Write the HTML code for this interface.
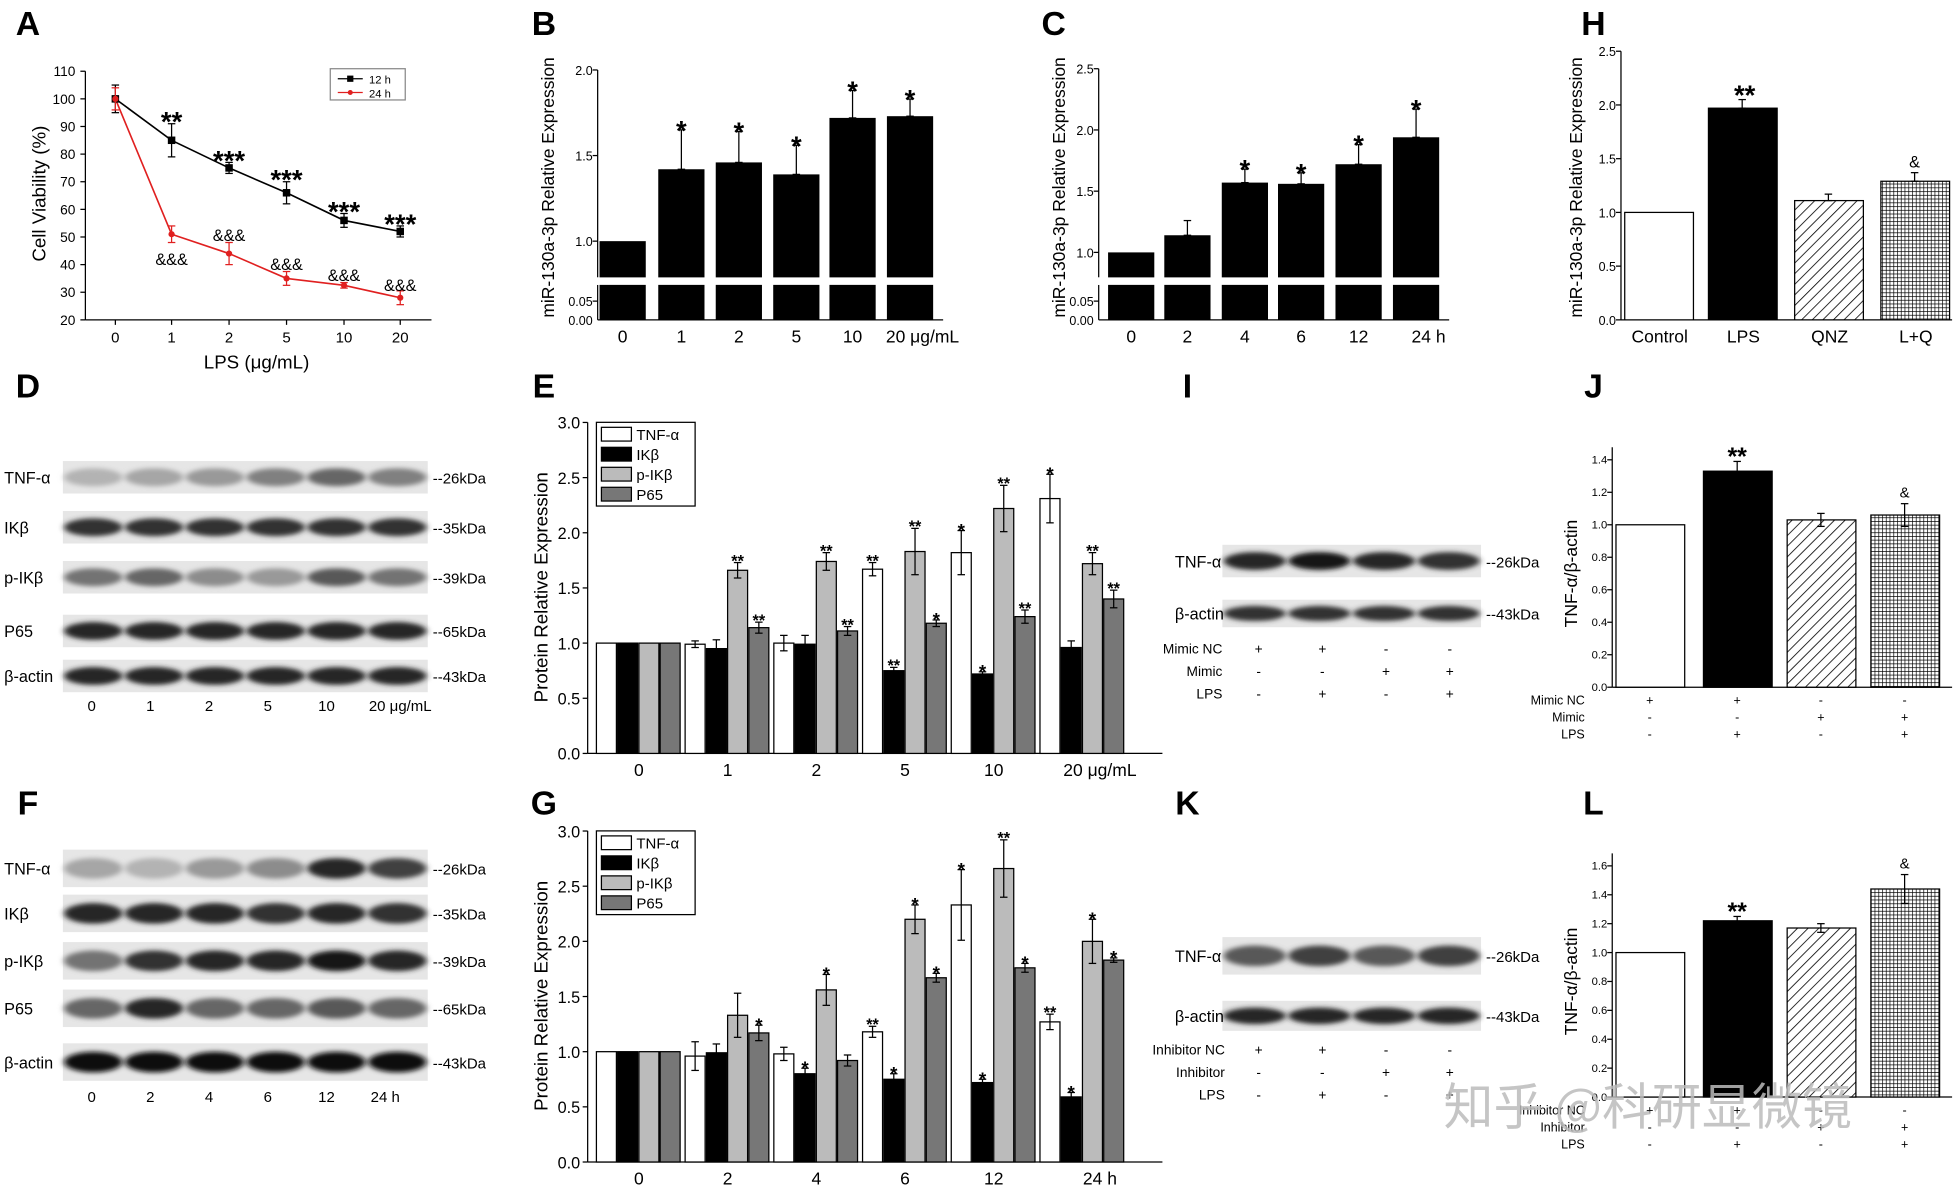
<!DOCTYPE html>
<html><head><meta charset="utf-8"><style>
html,body{margin:0;padding:0;background:#fff;}
svg{display:block;font-family:"Liberation Sans",sans-serif;}
</style></head><body>
<svg id="s" width="1960" height="1187" viewBox="0 0 1568 950" xmlns="http://www.w3.org/2000/svg">
<defs>
<filter id="bl" x="-20%" y="-100%" width="140%" height="300%"><feGaussianBlur stdDeviation="2.5 2"/></filter>
<pattern id="hatch" width="6" height="6" patternUnits="userSpaceOnUse" patternTransform="rotate(45)"><rect width="6" height="6" fill="#fff"/><line x1="0" y1="0" x2="0" y2="6" stroke="#000" stroke-width="1.3"/></pattern>
<pattern id="grid" width="3" height="3" patternUnits="userSpaceOnUse"><rect width="3" height="3" fill="#fff"/><path d="M0 0H3M0 0V3" stroke="#000" stroke-width="1.1"/></pattern>
</defs>
<g id="g"></g>
<text x="1155" y="900" font-family="'Noto Sans CJK SC',sans-serif" font-size="40" fill="#bbb" opacity="0.85">知乎 @科研显微镜</text>
</svg>
<script>
const g=document.getElementById('g');let h='';
const T=(x,y,t,o={})=>{h+=`<text x="${x}" y="${y}" font-size="${o.s||13}" text-anchor="${o.a||'middle'}" ${o.b?'font-weight="bold"':''} ${o.r?`transform="rotate(-90 ${x} ${y})"`:''} fill="${o.f||'#000'}">${t}</text>`;};
const L=(x1,y1,x2,y2,c='#000',w=1)=>{h+=`<line x1="${x1}" y1="${y1}" x2="${x2}" y2="${y2}" stroke="${c}" stroke-width="${w}"/>`;};
const R=(x,y,w,hh,f,st='#000')=>{h+=`<rect x="${x}" y="${y}" width="${w}" height="${hh}" fill="${f}" stroke="${st}" stroke-width="1"/>`;};
const EB=(x,y1,y2,c='#000')=>{L(x,y1,x,y2,c);L(x-3,y1,x+3,y1,c);L(x-3,y2,x+3,y2,c);};
[['A',22,28],['B',435,28],['C',843,28],['H',1275,28],['D',22,318],['E',435,318],['I',950,318],['J',1275,318],['F',22,652],['G',435,652],['K',950,652],['L',1275,652]].forEach(p=>T(p[1],p[2],p[0],{s:27,b:1}));
// Panel A
{const yv=v=>256-(v-20)*2.211;L(68,57,68,256);L(68,256,345,256);
for(let v=20;v<=110;v+=10){L(64,yv(v),68,yv(v));T(60,yv(v)+4,v,{s:11,a:'end'});}
const xs=[92,137,183,229,275,320],lab=[0,1,2,5,10,20];xs.forEach((x,i)=>{L(x,256,x,260);T(x,274,lab[i],{s:12});});
T(205,295,'LPS (μg/mL)',{s:15});T(36,155,'Cell Viability (%)',{s:15,r:1});
const a=[100,85,75,66,56,52],ae=[5,6,2,4,2.5,2],b=[100,51,44,35,32.5,28],be=[4,3,4,2.5,1,2.5];
h+=`<polyline points="${xs.map((x,i)=>x+','+yv(a[i])).join(' ')}" fill="none" stroke="#000" stroke-width="1.3"/>`;
h+=`<polyline points="${xs.map((x,i)=>x+','+yv(b[i])).join(' ')}" fill="none" stroke="#e02020" stroke-width="1.3"/>`;
xs.forEach((x,i)=>{EB(x,yv(a[i]+ae[i]),yv(a[i]-ae[i]));R(x-2.5,yv(a[i])-2.5,5,5,'#000');EB(x,yv(b[i]+be[i]),yv(b[i]-be[i]),'#e02020');h+=`<circle cx="${x}" cy="${yv(b[i])}" r="2.5" fill="#e02020"/>`;});
['','**','***','***','***','***'].forEach((s,i)=>{if(s)T(xs[i],yv(a[i]+ae[i])+6,s,{s:22,b:1});});
[[137,207],[183,188],[229,211],[275,220],[320,228]].forEach(p=>T(p[0],p[1]+5,'&amp;&amp;&amp;',{s:13}));
R(264,55,60,25,'#fff','#888');L(270,63,290,63);R(278,61,4,4,'#000');T(295,67,'12 h',{s:9,a:'start'});L(270,74,290,74,'#e02020');h+=`<circle cx="280" cy="74" r="2" fill="#e02020"/>`;T(295,78,'24 h',{s:9,a:'start'});}
function brk(ax,top,ticks,yv,xs,vals,errs,labs,stars,bw){L(ax,top,ax,222);L(ax,228,ax,256);L(ax,256,xs[xs.length-1]+bw/2+8,256);
ticks.forEach(t=>{L(ax-4,yv(t),ax,yv(t));T(ax-4,yv(t)+4,t.toFixed(1),{s:10,a:'end'});});
L(ax-4,241,ax,241);T(ax-4,245,'0.05',{s:10,a:'end'});T(ax-4,260,'0.00',{s:10,a:'end'});
h+=`<rect x="${ax-6}" y="222" width="${xs[xs.length-1]+bw/2-ax+10}" height="6" fill="#fff"/>`;
xs.forEach((x,i)=>{h+=`<rect x="${x-bw/2}" y="${yv(vals[i])}" width="${bw}" height="${222-yv(vals[i])}" fill="#000"/><rect x="${x-bw/2}" y="228" width="${bw}" height="28" fill="#000"/>`;
if(errs[i])EB(x,yv(vals[i]+errs[i]),yv(vals[i]));if(stars[i])T(x,yv(vals[i]+errs[i])+8,stars[i],{s:22,b:1});T(x+(i==5?10:0),274,labs[i],{s:14});});}
brk(478,56,[1.0,1.5,2.0],v=>193-(v-1)*137,[498,545,591,637,682,728],[1,1.42,1.46,1.39,1.72,1.73],[0,.23,.18,.17,.16,.1],['0','1','2','5','10','20 μg/mL'],['','*','*','*','*','*'],37);
T(443,150,'miR-130a-3p Relative Expression',{s:14,r:1});
brk(879,55,[1.0,1.5,2.0,2.5],v=>202-(v-1)*98,[905,950,996,1041,1087,1133],[1,1.14,1.57,1.56,1.72,1.94],[0,.12,.11,.09,.16,.23],['0','2','4','6','12','24 h'],['','','*','*','*','*'],37);
T(852,150,'miR-130a-3p Relative Expression',{s:14,r:1});
{const yv=v=>256-v*86;L(1297,41,1297,256);L(1297,256,1562,256);for(let v=0;v<=2.5;v+=.5){L(1293,yv(v),1297,yv(v));T(1293,yv(v)+4,v.toFixed(1),{s:10,a:'end'});}
const bx=[1300,1367,1436,1505],v=[1,1.97,1.11,1.29],e=[0,.08,.06,.08],f=['#fff','#000','url(#hatch)','url(#grid)'],lb=['Control','LPS','QNZ','L+Q'];
bx.forEach((x,i)=>{R(x,yv(v[i]),55,256-yv(v[i]),f[i]);if(e[i])EB(x+27,yv(v[i]+e[i]),yv(v[i]));T(x+28,274,lb[i],{s:14});});
T(1396,yv(2.05)+4,'**',{s:22,b:1});T(1532,yv(1.37)-4,'&amp;',{s:13});T(1266,150,'miR-130a-3p Relative Expression',{s:14,r:1});}
function grp(top,labs,data,errs,stars){const bot=top+265,yv=v=>bot-v*88.3;L(470,top,470,bot);L(470,bot,930,bot);
for(let v=0;v<=3;v+=.5){L(466,yv(v),470,yv(v));T(464,yv(v)+5,v.toFixed(1),{s:13,a:'end'});}
const cs=[511,582,653,724,795,866],fc=['#fff','#000','#bbb','#777'];
cs.forEach((c,i)=>{T(c+(i==5?14:0),bot+18,labs[i],{s:14});data[i].forEach((v,j)=>{const x=c-34+j*17;R(x,yv(v),16,bot-yv(v),fc[j]);if(errs[i][j])EB(x+8,yv(v+errs[i][j]),yv(v-errs[i][j]));if(stars[i][j])T(x+8,yv(v+errs[i][j])-1+(stars[i][j]=='*'?6:4),stars[i][j],{s:stars[i][j]=='*'?15:13,b:1});});});
T(438,top+132,'Protein Relative Expression',{s:15,r:1});
R(477,top,79,67,'#fff');['TNF-α','IKβ','p-IKβ','P65'].forEach((n,j)=>{R(481,top+4+j*16,24,11,fc[j]);T(509,top+14+j*16,n,{s:12,a:'start'});});}
grp(338,['0','1','2','5','10','20 μg/mL'],
[[1,1,1,1],[.99,.95,1.66,1.14],[1,.99,1.74,1.11],[1.67,.75,1.83,1.18],[1.82,.72,2.22,1.24],[2.31,.96,1.72,1.4]],
[[0,0,0,0],[.03,.08,.07,.05],[.07,.08,.08,.04],[.06,.03,.21,.03],[.2,.02,.21,.06],[.22,.06,.1,.08]],
[['','','',''],['','','**','**'],['','','**','**'],['**','**','**','*'],['*','*','**','**'],['*','','**','**']]);
grp(665,['0','2','4','6','12','24 h'],
[[1,1,1,1],[.96,.99,1.33,1.17],[.98,.8,1.56,.92],[1.18,.75,2.2,1.67],[2.33,.72,2.66,1.76],[1.27,.59,2,1.83]],
[[0,0,0,0],[.13,.08,.2,.07],[.06,.05,.14,.05],[.05,.05,.13,.04],[.32,.03,.26,.04],[.07,.04,.2,.02]],
[['','','',''],['','','','*'],['','*','*',''],['**','*','*','*'],['*','*','**','*'],['**','*','*','*']]);
function sm(top,bot,max,step,v,e,rows){const yv=x=>bot-(x/max)*(bot-top);L(1290,top-10,1290,bot);L(1290,bot,1562,bot);
for(let t=0;t<=max+1e-9;t+=step){L(1286,yv(t),1290,yv(t));T(1286,yv(t)+3,t.toFixed(1),{s:9,a:'end'});}
const bx=[1293,1363,1430,1497],f=['#fff','#000','url(#hatch)','url(#grid)'];
bx.forEach((x,i)=>{R(x,yv(v[i]),55,bot-yv(v[i]),f[i]);if(e[i])EB(x+27,yv(v[i]+e[i]),yv(v[i]-e[i]));});
T(1390,yv(v[1]+e[1])+3,'**',{s:20,b:1});T(1524,yv(v[3]+e[3])-5,'&amp;',{s:12});
T(1262,(top+bot)/2,'TNF-α/β-actin',{s:14,r:1});
rows.forEach((r,k)=>{const y=bot+14+k*13.5;T(1268,y,r[0],{s:10,a:'end'});r[1].forEach((s,i)=>T(bx[i]+27,y,s,{s:10}));});}
sm(368,550,1.4,.2,[1,1.33,1.03,1.06],[0,.06,.04,.07],[['Mimic NC',['+','+','-','-']],['Mimic',['-','-','+','+']],['LPS',['-','+','-','+']]]);
sm(693,878,1.6,.2,[1,1.22,1.17,1.44],[0,.03,.03,.1],[['Inhibitor NC',['+','+','-','-']],['Inhibitor',['-','-','+','+']],['LPS',['-','+','-','+']]]);
function blot(x0,x1,y,lanes,ints,hh,lab,kda,lx){h+=`<rect x="${x0}" y="${y-hh}" width="${x1-x0}" height="${hh*2}" fill="#e6e6e6"/>`;
const w=(x1-x0)/lanes;for(let i=0;i<lanes;i++){const c=Math.round(255*(1-ints[i]));h+=`<ellipse cx="${x0+w*(i+.5)}" cy="${y}" rx="${w*.48}" ry="${hh*.55}" fill="rgb(${c},${c},${c})" filter="url(#bl)"/>`;}
T(lx,y+5,lab,{s:13,a:'start'});T(x1+4,y+5,'--'+kda,{s:12,a:'start'});}
const D=[['TNF-α','26kDa',[.3,.35,.4,.5,.6,.5],382],['IKβ','35kDa',[.8,.8,.8,.8,.8,.8],422],['p-IKβ','39kDa',[.55,.6,.45,.4,.65,.55],462],['P65','65kDa',[.85,.85,.85,.85,.85,.85],505],['β-actin','43kDa',[.85,.85,.85,.85,.85,.85],541]];
D.forEach(r=>blot(50,342,r[3],6,r[2],13,r[0],r[1],3));['0','1','2','5','10','20 μg/mL'].forEach((s,i)=>T(73+i*47+(i==5?12:0),569,s,{s:12}));
const F=[['TNF-α','26kDa',[.35,.3,.4,.45,.85,.75],695],['IKβ','35kDa',[.85,.85,.85,.8,.85,.8],731],['p-IKβ','39kDa',[.55,.8,.85,.85,.9,.85],769],['P65','65kDa',[.6,.85,.6,.6,.65,.6],807],['β-actin','43kDa',[.95,.95,.95,.95,.95,.95],850]];
F.forEach(r=>blot(50,342,r[3],6,r[2],15,r[0],r[1],3));['0','2','4','6','12','24 h'].forEach((s,i)=>T(73+i*47,882,s,{s:12}));
blot(978,1185,449,4,[.85,.9,.85,.8],13,'','26kDa',978);T(940,454,'TNF-α',{s:13,a:'start'});
blot(978,1185,491,4,[.8,.8,.8,.8],11,'','43kDa',978);T(940,496,'β-actin',{s:13,a:'start'});
[['Mimic NC',['+','+','-','-']],['Mimic',['-','-','+','+']],['LPS',['-','+','-','+']]].forEach((r,k)=>{const y=523+k*18;T(978,y,r[0],{s:11,a:'end'});r[1].forEach((s,i)=>T(1007+i*51,y,s,{s:11}));});
blot(978,1185,765,4,[.65,.75,.65,.75],15,'','26kDa',978);T(940,770,'TNF-α',{s:13,a:'start'});
blot(978,1185,813,4,[.85,.85,.85,.85],12,'','43kDa',978);T(940,818,'β-actin',{s:13,a:'start'});
[['Inhibitor NC',['+','+','-','-']],['Inhibitor',['-','-','+','+']],['LPS',['-','+','-','+']]].forEach((r,k)=>{const y=844+k*18;T(980,y,r[0],{s:11,a:'end'});r[1].forEach((s,i)=>T(1007+i*51,y,s,{s:11}));});
g.innerHTML=h;
</script>
</body></html>
